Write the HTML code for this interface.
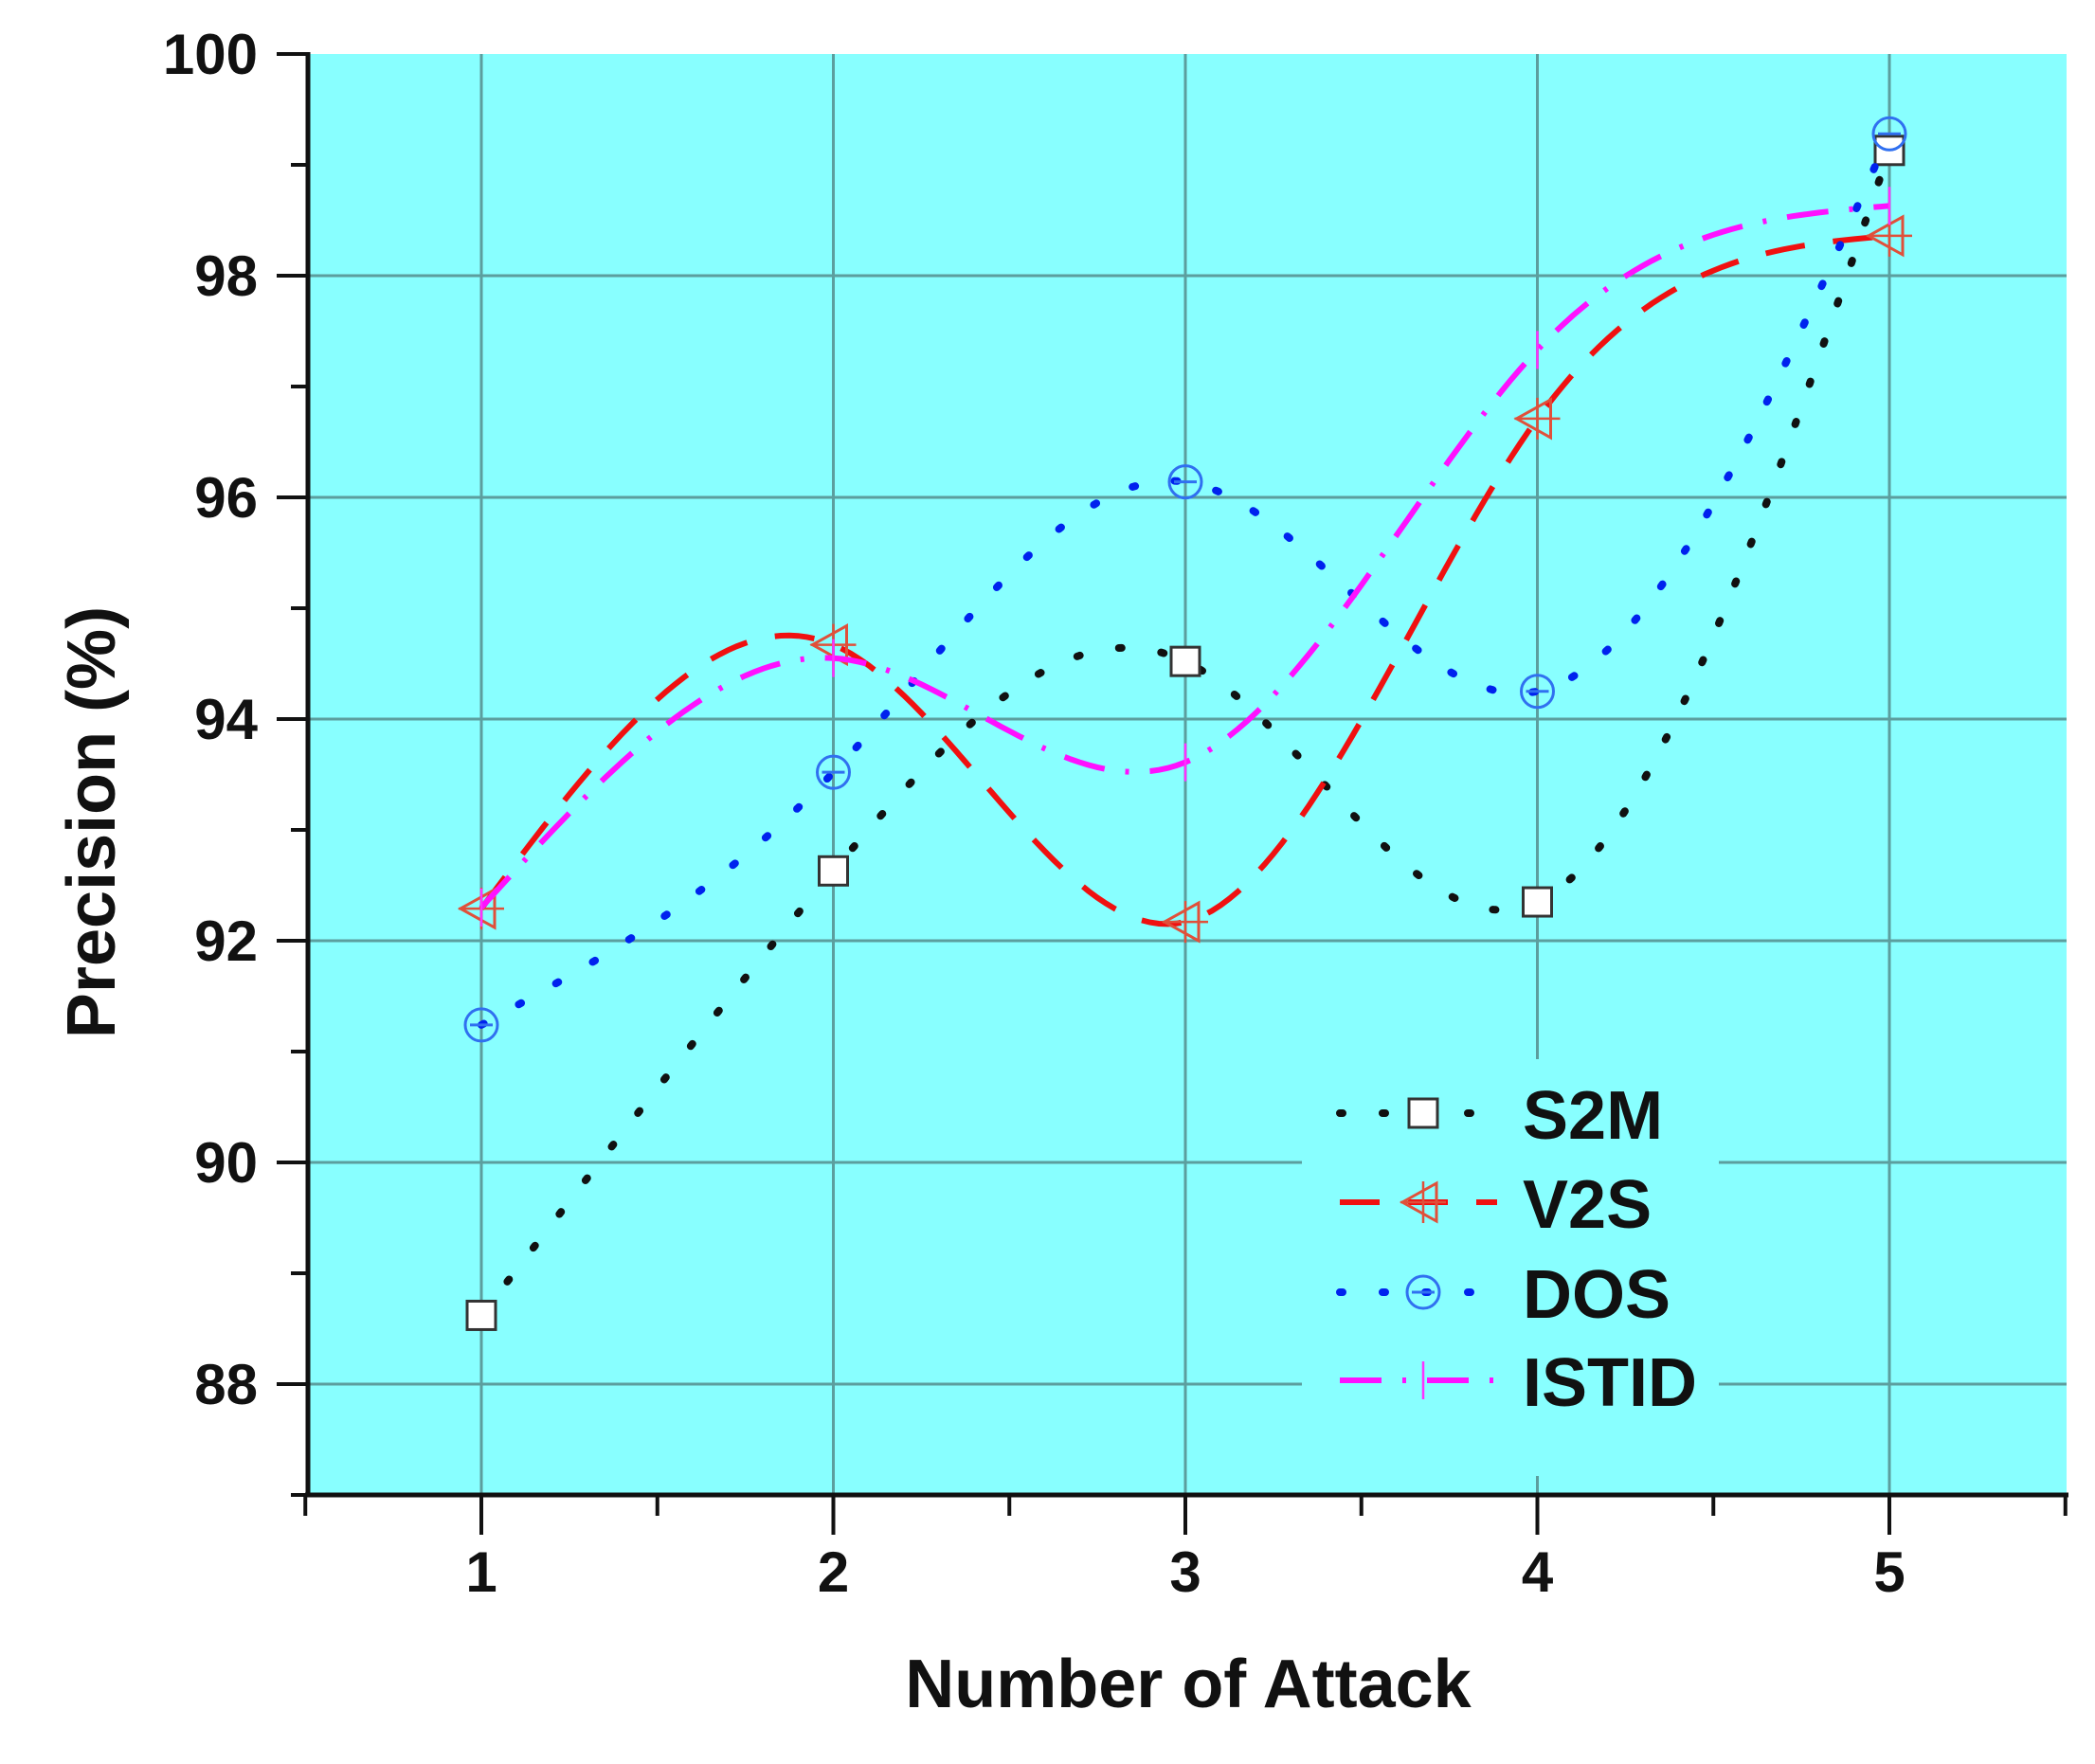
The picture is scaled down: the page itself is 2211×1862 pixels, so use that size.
<!DOCTYPE html>
<html><head><meta charset="utf-8"><style>
html,body{margin:0;padding:0;background:#fff;}
svg{display:block;}
text{font-family:"Liberation Sans",Arial,sans-serif;font-weight:bold;fill:#111;}
</style></head><body>
<svg id="s" width="2211" height="1862" viewBox="0 0 2211 1862" xmlns="http://www.w3.org/2000/svg">
<rect x="325" y="57" width="1856" height="1521" fill="#88FFFF"/>
<g id="grid" stroke="#5c9e9e" stroke-width="3"></g>
<rect x="1374" y="1118" width="440" height="440" fill="#88FFFF"/>
<g id="series"></g>
<g id="axes" stroke="#111" fill="none"></g>
<g id="labels"></g>
<text x="1254" y="1802" font-size="72" text-anchor="middle">Number of Attack</text>
<text transform="translate(121,868) rotate(-90)" font-size="72" text-anchor="middle">Precision (%)</text>
<g id="legend"></g>
</svg>
<script>
var NS="http://www.w3.org/2000/svg";
function el(p,t,a,txt){var e=document.createElementNS(NS,t);for(var k in a)e.setAttribute(k,a[k]);if(txt!==undefined)e.textContent=txt;document.getElementById(p).appendChild(e);return e;}
function X(x){return 508+(x-1)*371.5;}
function Y(v){return 57+(100-v)*117;}
for(var i=1;i<=5;i++)el("grid","line",{x1:X(i),x2:X(i),y1:57,y2:1578});
for(var v=88;v<=98;v+=2)el("grid","line",{x1:325,x2:2181,y1:Y(v),y2:Y(v)});
el("axes","line",{x1:325,x2:325,y1:55,y2:1580,"stroke-width":5});
el("axes","line",{x1:322,x2:2183,y1:1578,y2:1578,"stroke-width":5});
for(var v=87;v<=100;v++){var maj=(v%2==0);el("axes","line",{x1:maj?292:307,x2:325,y1:Y(v),y2:Y(v),"stroke-width":4});
 if(maj)el("labels","text",{x:272,y:Y(v)+21,"font-size":60,"text-anchor":"end"},String(v));}
for(var x=0.5;x<=5.51;x+=0.5){var maj=Math.abs(x-Math.round(x))<0.01;el("axes","line",{x1:X(x),x2:X(x),y1:1578,y2:maj?1620:1600,"stroke-width":4});
 if(maj)el("labels","text",{x:X(x),y:1680,"font-size":60,"text-anchor":"middle"},String(Math.round(x)));}
function spline(ys){var n=ys.length,m=new Array(n).fill(0);
 var N=n-2,A=[],B=[],C=[],D=[];
 for(var i=1;i<n-1;i++){A.push(1);B.push(4);C.push(1);D.push(6*(ys[i+1]-2*ys[i]+ys[i-1]));}
 for(var i=1;i<N;i++){var w=A[i]/B[i-1];B[i]-=w*C[i-1];D[i]-=w*D[i-1];}
 var M=new Array(N);M[N-1]=D[N-1]/B[N-1];for(var i=N-2;i>=0;i--)M[i]=(D[i]-C[i]*M[i+1])/B[i];
 for(var i=0;i<N;i++)m[i+1]=M[i];
 var pts=[];for(var i=0;i<n-1;i++){for(var k=0;k<=40;k++){var t=k/40;
  var y=(1-t)*ys[i]+t*ys[i+1]+((Math.pow(1-t,3)-(1-t))*m[i]+(Math.pow(t,3)-t)*m[i+1])/6;
  pts.push([X(1+i+t),Y(y)]);}}
 return "M"+pts.map(function(p){return p[0].toFixed(1)+","+p[1].toFixed(1);}).join("L");}
var S=[
 {d:[88.62,92.63,94.52,92.35,99.13],c:"#111",dash:"3 42",w:8,m:"sq"},
 {d:[92.29,94.67,92.17,96.71,98.36],c:"#f01010",dash:"42 30",w:6,m:"tri"},
 {d:[91.24,93.52,96.14,94.25,99.28],c:"#0022ee",dash:"3 42",w:8,m:"circ"},
 {d:[92.30,94.55,93.61,97.33,98.63],c:"#ff10ff",dash:"44 22 4 22",w:6,m:"bar"}];
function marker(g,m,x,y){
 if(m=="sq")el(g,"rect",{x:x-15,y:y-15,width:30,height:30,fill:"#fff",stroke:"#333","stroke-width":3});
 if(m=="tri"){el(g,"path",{d:"M"+(x-22)+","+y+"L"+(x+14)+","+(y-20)+"L"+(x+14)+","+(y+20)+"Z",fill:"none",stroke:"#e0503a","stroke-width":3});
  el(g,"path",{d:"M"+(x-24)+","+y+"H"+(x+24)+"M"+x+","+(y-22)+"V"+(y+22),stroke:"#e0503a","stroke-width":2.5});}
 if(m=="circ"){el(g,"circle",{cx:x,cy:y,r:17,fill:"none",stroke:"#3070f0","stroke-width":3});
  el(g,"path",{d:"M"+(x-12)+","+y+"H"+(x+12),stroke:"#3070f0","stroke-width":3});}
 if(m=="bar")el(g,"path",{d:"M"+x+","+(y-20)+"V"+(y+20),stroke:"#ff30ff","stroke-width":2.5});}
S.forEach(function(s){el("series","path",{d:spline(s.d),fill:"none",stroke:s.c,"stroke-width":s.w,"stroke-dasharray":s.dash,"stroke-linecap":s.dash.indexOf("3 ")==0?"round":"butt"});
 for(var i=0;i<5;i++)marker("series",s.m,X(i+1),Y(s.d[i]));});
var names=["S2M","V2S","DOS","ISTID"],ly=[1175,1269,1364,1457];
S.forEach(function(s,i){el("legend","line",{x1:1414,x2:1580,y1:ly[i],y2:ly[i],stroke:s.c,"stroke-width":s.w,"stroke-dasharray":s.dash,"stroke-linecap":s.dash.indexOf("3 ")==0?"round":"butt"});
 marker("legend",s.m,1502,ly[i]);
 el("legend","text",{x:1607,y:ly[i]+27,"font-size":72},names[i]);});
</script>
</body></html>
